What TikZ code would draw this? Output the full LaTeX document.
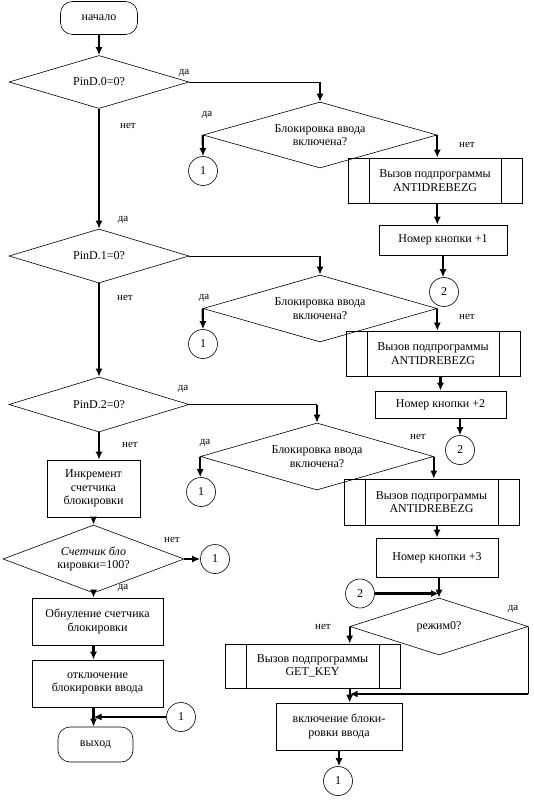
\documentclass[tikz,border=0pt]{standalone}
\usepackage{fontspec}
\setmainfont{Liberation Serif}
\usetikzlibrary{shapes.geometric,arrows.meta}

\begin{document}
\begin{tikzpicture}[x=1pt, y=-1pt,
	font=\fontsize{12}{13.5}\selectfont,
	every node/.style = {align=center, inner sep=0pt},
	term/.style = {draw, rounded corners=12pt, line width=0.6pt},
	cond/.style = {draw, diamond, line width=0.6pt},
	block/.style = {draw, rectangle, line width=0.6pt},
	subprog/.style = {draw, rectangle, line width=0.6pt, path picture={
		\draw[line width=0.6pt] ([xshift=21pt]path picture bounding box.north west) -- ([xshift=21pt]path picture bounding box.south west);
		\draw[line width=0.6pt] ([xshift=-21pt]path picture bounding box.north east) -- ([xshift=-21pt]path picture bounding box.south east);}},
	conn/.style = {draw, circle, minimum size=29pt, line width=0.6pt},
	lbl/.style = {font=\fontsize{11}{12}\selectfont},
	line/.style = {line width=0.7pt},
	flow/.style = {line width=2.2pt, -{Latex[length=8pt,width=7pt]}},]
		
		\useasboundingbox (0,0) rectangle (534,802);
		
		% main column
		\node[term, minimum width=77pt, minimum height=33pt] (start) at (99,18) {начало};
		\node[cond, aspect=3.4, minimum width=180pt, minimum height=53pt] (pd0) at (99,82) {PinD.0=0?};
		\node[cond, aspect=3.4, minimum width=180pt, minimum height=54pt] (pd1) at (99,256) {PinD.1=0?};
		\node[cond, aspect=3.3, minimum width=180pt, minimum height=55pt] (pd2) at (99,404.5) {PinD.2=0?};
		\node[block, minimum width=93pt, minimum height=57pt] (inc) at (93.5,488.5) {Инкремент\\счетчика\\блокировки};
		\node[cond, aspect=2.66, minimum width=181pt, minimum height=68pt] (cnt) at (93.5,559) {\textit{Счетчик бло}\\кировки=100?};
		\node[conn] (c1d) at (215,559) {1};
		\node[block, minimum width=131pt, minimum height=47pt] (clr) at (97.5,621.5) {Обнуление счетчика\\блокировки};
		\node[block, minimum width=131pt, minimum height=47pt] (lockoff) at (97.5,683.5) {отключение\\блокировки ввода};
		\node[term, minimum width=75pt, minimum height=35pt] (stop) at (95.5,744.5) {выход};
		\node[conn] (c1e) at (181,717) {1};
		
		% button 1
		\node[cond, aspect=3.5, minimum width=234pt, minimum height=66pt] (lock1) at (320,135) {Блокировка ввода\\включена?};
		\node[conn] (c1a) at (203,171) {1};
		\node[subprog, minimum width=174pt, minimum height=45pt] (sub1) at (435,180.5) {Вызов подпрограммы\\ANTIDREBEZG};
		\node[block, minimum width=128pt, minimum height=30pt] (key1) at (443,240) {Номер кнопки +1};
		\node[conn] (c2a) at (444,292) {2};
		
		% button 2
		\node[cond, aspect=3.5, minimum width=234pt, minimum height=67pt] (lock2) at (320,308.5) {Блокировка ввода\\включена?};
		\node[conn] (c1b) at (203,344) {1};
		\node[subprog, minimum width=174pt, minimum height=45pt] (sub2) at (433,353.5) {Вызов подпрограммы\\ANTIDREBEZG};
		\node[block, minimum width=131pt, minimum height=27pt] (key2) at (440.5,404.5) {Номер кнопки +2};
		\node[conn] (c2b) at (460,450) {2};
		
		% button 3
		\node[cond, aspect=3.5, minimum width=233pt, minimum height=67pt] (lock3) at (317,456.5) {Блокировка ввода\\включена?};
		\node[conn] (c1c) at (201,492) {1};
		\node[subprog, minimum width=175pt, minimum height=46pt] (sub3) at (431.5,502) {Вызов подпрограммы\\ANTIDREBEZG};
		\node[block, minimum width=122pt, minimum height=39pt] (key3) at (437,557.5) {Номер кнопки +3};
		\node[conn] (c2c) at (360,593.5) {2};
		\node[cond, aspect=3.1, minimum width=178pt, minimum height=57pt] (mode) at (439,626.5) {режим0?};
		\node[subprog, minimum width=175pt, minimum height=44pt] (getkey) at (312.5,666) {Вызов подпрограммы\\GET\_KEY};
		\node[block, minimum width=126pt, minimum height=47pt] (lockon) at (339,726.5) {включение блоки-\\ровки ввода};
		\node[conn] (c1f) at (338,781) {1};
		\coordinate (join) at (mode.west |- 0,694);
		
		% labels
		\node[lbl] (yes0) at (184,73) {да};
		\node[lbl] (no0) at (128,126) {нет};
		\node[lbl] (yes1) at (207,115) {да};
		\node[lbl] (no1) at (467,145) {нет};
		\node[lbl] (yes2) at (123,220) {да};
		\node[lbl] (no2) at (125,298) {нет};
		\node[lbl] (yes3) at (204,298) {да};
		\node[lbl] (no3) at (467,317) {нет};
		\node[lbl] (yes4) at (183,389) {да};
		\node[lbl] (no4) at (130,445) {нет};
		\node[lbl] (yes5) at (205,443) {да};
		\node[lbl] (no5) at (418,437) {нет};
		\node[lbl] (no6) at (172,540) {нет};
		\node[lbl] (yes6) at (123,588) {да};
		\node[lbl] (yes7) at (513,609) {да};
		\node[lbl] (no7) at (323,627) {нет};
		
		% main flow
		\draw[flow] (start.south) -- (pd0.north);
		\draw[flow] (pd0.south) -- (pd1.north);
		\draw[flow] (pd1.south) -- (pd2.north);
		\draw[flow] (pd2.south) -- (pd2.south |- inc.north);
		\draw[flow] (inc.south) -- (cnt.north);
		\draw[flow] (cnt.east) -- (c1d.west);
		\draw[flow] (cnt.south) -- (cnt.south |- clr.north);
		\draw[flow] (cnt.south |- clr.south) -- (cnt.south |- lockoff.north);
		\draw[flow] (cnt.south |- lockoff.south) -- (cnt.south |- stop.north);
		\draw[flow] (c1e.west) -- (cnt.south |- c1e.west);
		
		% button 1
		\draw[line] (pd0.east) -- (pd0.east -| lock1.north);
		\draw[flow] (pd0.east -| lock1.north) -- (lock1.north);
		\draw[flow] (lock1.west) -- (c1a.north);
		\draw[flow] (lock1.east) -- (lock1.east |- sub1.north);
		\draw[flow] (lock1.east |- sub1.south) -- (lock1.east |- key1.north);
		\draw[flow] (key1.south) -- (key1.south |- c2a.north);
		
		% button 2
		\draw[line] (pd1.east) -- (pd1.east -| lock2.north);
		\draw[flow] (pd1.east -| lock2.north) -- (lock2.north);
		\draw[flow] (lock2.west) -- (c1b.north);
		\draw[flow] (lock2.east) -- (lock2.east |- sub2.north);
		\draw[flow] (key2.north |- sub2.south) -- (key2.north);
		\draw[flow] (c2b.north |- key2.south) -- (c2b.north);
		
		% button 3
		\draw[line] (pd2.east) -- (pd2.east -| lock3.north);
		\draw[flow] (pd2.east -| lock3.north) -- (lock3.north);
		\draw[flow] (lock3.west) -- (lock3.west |- c1c.north);
		\draw[flow] (lock3.east) -- (lock3.east |- sub3.north);
		\draw[flow] (key3.north |- sub3.south) -- (key3.north);
		\draw[flow] (key3.south -| mode.north) -- (mode.north);
		\draw[flow] (c2c.east) -- (c2c.east -| mode.north);
		\draw[flow] (mode.west) -- (mode.west |- getkey.north);
		\draw[flow] (join |- getkey.south) -- (join |- lockon.north);
		\draw[line] (mode.east) -- (mode.east |- join);
		\draw[flow] (mode.east |- join) -- (join);
		\draw[flow] (lockon.south) -- (lockon.south |- c1f.north);
		
	\end{tikzpicture}
\end{document}
